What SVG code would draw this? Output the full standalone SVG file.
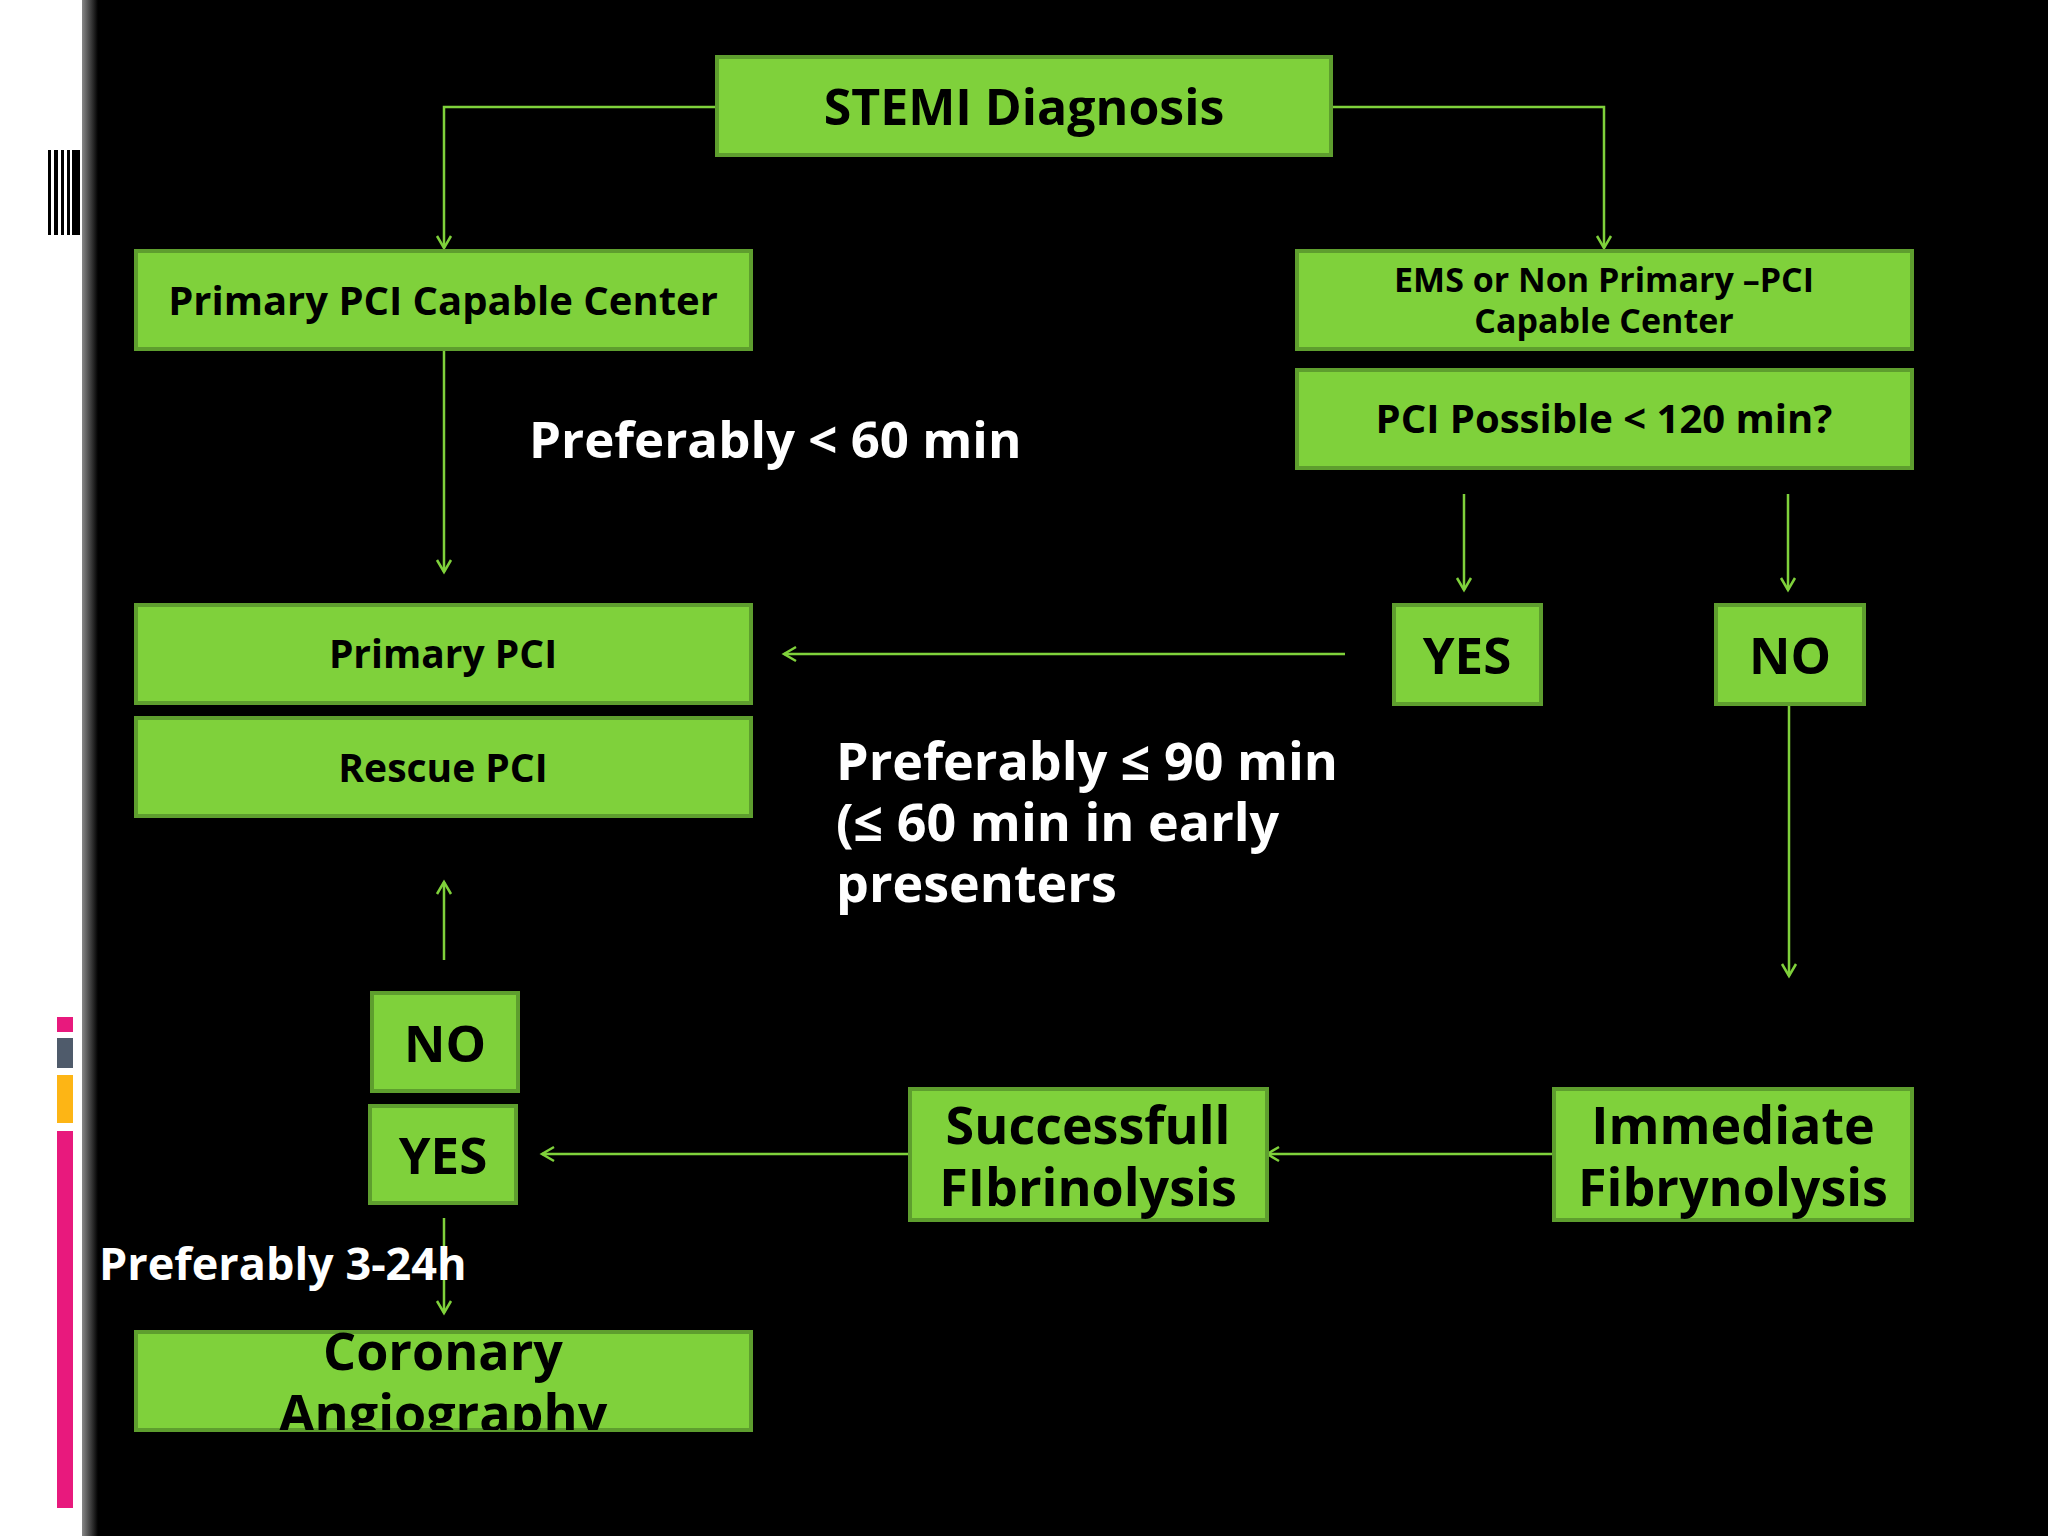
<svg xmlns="http://www.w3.org/2000/svg" width="2048" height="1536" viewBox="0 0 2048 1536">
<defs>
<style>
.b{fill:#7fd13b;stroke:#5e9e2e;stroke-width:4}
.t{font-family:"Open Sans","DejaVu Sans",sans-serif;font-weight:bold;fill:#000;text-anchor:middle}
.w{font-family:"Open Sans","DejaVu Sans",sans-serif;font-weight:bold;fill:#fff}
.c{fill:none;stroke:#7fd13b;stroke-width:2.5}
</style>
<marker id="a" markerWidth="20" markerHeight="20" refX="14" refY="8" orient="auto" markerUnits="userSpaceOnUse" viewBox="0 0 20 16">
<path d="M2,1 L14,8 L2,15" fill="none" stroke="#7fd13b" stroke-width="2.5"/>
</marker>
<linearGradient id="sh" x1="0" x2="1"><stop offset="0" stop-color="#888"/><stop offset="1" stop-color="#000"/></linearGradient>
<clipPath id="cc"><rect x="136" y="1332" width="615" height="98"/></clipPath>
</defs>
<rect width="2048" height="1536" fill="#000"/>
<rect width="82" height="1536" fill="#fff"/>
<rect x="82" width="16" height="1536" fill="url(#sh)"/>
<g id="barcode" fill="#000">
<rect x="48" y="150" width="3" height="85"/><rect x="54" y="150" width="4" height="85"/><rect x="61" y="150" width="3" height="85"/><rect x="67" y="150" width="3" height="85"/><rect x="72" y="150" width="8" height="85"/>
</g>
<g id="bars">
<rect x="57" y="1017" width="16" height="15" fill="#e8197d"/>
<rect x="57" y="1038" width="16" height="30" fill="#4f5b6b"/>
<rect x="57" y="1075" width="16" height="48" fill="#fdb515"/>
<rect x="57" y="1131" width="16" height="377" fill="#e8197d"/>
</g>
<g id="connectors">
<path class="c" d="M717,107 H444 V248" marker-end="url(#a)"/>
<path class="c" d="M1331,107 H1604 V248" marker-end="url(#a)"/>
<path class="c" d="M444,349 V572" marker-end="url(#a)"/>
<path class="c" d="M1464,494 V590" marker-end="url(#a)"/>
<path class="c" d="M1788,494 V590" marker-end="url(#a)"/>
<path class="c" d="M1345,654 H784" marker-end="url(#a)"/>
<path class="c" d="M1789,704 V976" marker-end="url(#a)"/>
<path class="c" d="M1554,1154 H1267" marker-end="url(#a)"/>
<path class="c" d="M910,1154 H542" marker-end="url(#a)"/>
<path class="c" d="M444,960 V882" marker-end="url(#a)"/>
<path class="c" d="M444,1218 V1313" marker-end="url(#a)"/>
</g>
<g id="stemi"><rect class="b" x="717" y="57" width="614" height="98"/><text class="t" x="1024" y="125" font-size="50">STEMI Diagnosis</text></g>
<g id="ppcc"><rect class="b" x="136" y="251" width="615" height="98"/><text class="t" x="443" y="315" font-size="40">Primary PCI Capable Center</text></g>
<g id="ems"><rect class="b" x="1297" y="251" width="615" height="98"/><text class="t" x="1604" y="292" font-size="34">EMS or Non Primary –PCI</text><text class="t" x="1604" y="333" font-size="34">Capable Center</text></g>
<g id="pcipossible"><rect class="b" x="1297" y="370" width="615" height="98"/><text class="t" x="1604" y="433" font-size="40">PCI Possible &lt; 120 min?</text></g>
<g id="primarypci"><rect class="b" x="136" y="605" width="615" height="98"/><text class="t" x="443" y="668" font-size="39">Primary PCI</text></g>
<g id="rescuepci"><rect class="b" x="136" y="718" width="615" height="98"/><text class="t" x="443" y="782" font-size="39">Rescue PCI</text></g>
<g id="yes1"><rect class="b" x="1394" y="605" width="147" height="99"/><text class="t" x="1467" y="674" font-size="51">YES</text></g>
<g id="no1"><rect class="b" x="1716" y="605" width="148" height="99"/><text class="t" x="1790" y="674" font-size="51">NO</text></g>
<g id="no2"><rect class="b" x="372" y="993" width="146" height="98"/><text class="t" x="445" y="1062" font-size="51">NO</text></g>
<g id="yes2"><rect class="b" x="370" y="1106" width="146" height="97"/><text class="t" x="443" y="1174" font-size="51">YES</text></g>
<g id="successfull"><rect class="b" x="910" y="1089" width="357" height="131"/><text class="t" x="1088" y="1144" font-size="52">Successfull</text><text class="t" x="1088" y="1206" font-size="52">FIbrinolysis</text></g>
<g id="immediate"><rect class="b" x="1554" y="1089" width="358" height="131"/><text class="t" x="1733" y="1144" font-size="52">Immediate</text><text class="t" x="1733" y="1206" font-size="52">Fibrynolysis</text></g>
<g id="coronary"><rect class="b" x="136" y="1332" width="615" height="98"/><g clip-path="url(#cc)"><text class="t" x="443" y="1370" font-size="52">Coronary</text><text class="t" x="443" y="1432" font-size="52">Angiography</text></g></g>
<g id="labels">
<text class="w" x="529" y="458" font-size="51">Preferably &lt; 60 min</text>
<text class="w" x="836" y="780" font-size="52">Preferably ≤ 90 min</text>
<text class="w" x="836" y="841" font-size="52">(≤ 60 min in early</text>
<text class="w" x="836" y="902" font-size="52">presenters</text>
<text class="w" x="99" y="1280" font-size="45">Preferably 3-24h</text>
</g>
</svg>
